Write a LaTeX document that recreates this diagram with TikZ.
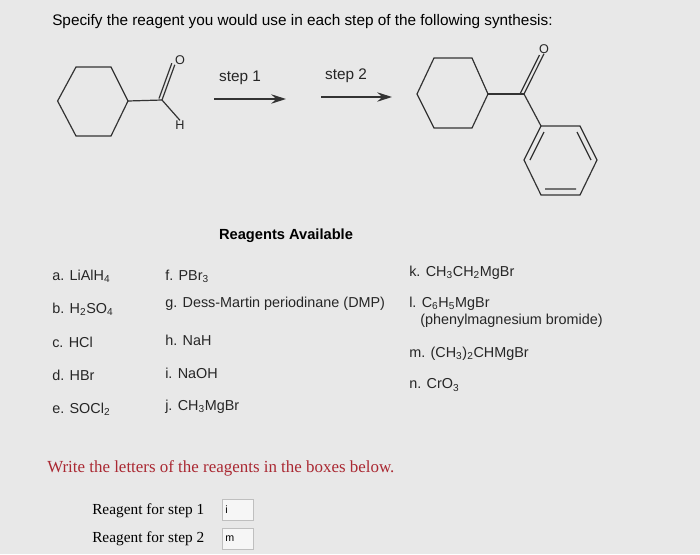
\documentclass[tikz,border=0pt]{standalone}
\usepackage{fontspec}
\usetikzlibrary{calc,arrows.meta}
\setmainfont{Liberation Sans}
\newfontfamily\serif{Liberation Serif}
\definecolor{bg}{RGB}{232,232,232}
\definecolor{redtxt}{RGB}{170,40,50}
\newcommand{\sbs}[1]{\textsubscript{#1}}
\begin{document}
\begin{tikzpicture}[x=0.75pt,y=-0.75pt,
 bond/.style={line width=0.9pt,black!80},
 lab/.style={inner sep=0pt,font=\fontsize{9.5}{11}\selectfont,text=black!85},
 reag/.style={inner sep=0pt,anchor=west,font=\fontsize{10.8}{12}\selectfont,text=black!85},
 ansbox/.style={draw=black!25,fill=white!60!bg,minimum width=23pt,minimum height=16pt,inner sep=0pt,font=\fontsize{8}{9}\selectfont}]
\fill[bg] (0,0) rectangle (700,554);
\useasboundingbox (0,0) rectangle (700,554);
\node[anchor=west,inner sep=0pt,font=\fontsize{11.5}{14}\selectfont] (title) at (52,22) {Specify the reagent you would use in each step of the following synthesis:};
% left molecule
\draw[bond] (57.6,101)--(76,67)--(111,67)--(128,101)--(111,136)--(76,136)--cycle;
\coordinate (c1) at (162,100);
\draw[bond] (128,101)--(c1);
\node[lab] (o1) at (180,60) {O};
\node[lab] (h1) at (180,125) {H};
\draw[bond] (c1)--(o1.south west);
\draw[bond] ($(c1)+(-3,-1.5)$)--($(o1.south west)+(-3,-1.5)$);
\draw[bond] (c1)--(h1.north);
% arrows
\node[lab,font=\fontsize{11.5}{13}\selectfont] (s1) at (240,78) {step 1};
\node[lab,font=\fontsize{11.5}{13}\selectfont] (s2) at (346,76) {step 2};
\coordinate (a1s) at (214,99); \coordinate (a1e) at (286,99);
\coordinate (a2s) at (321,97); \coordinate (a2e) at (392,97);
\draw[bond,line width=1.2pt,-{Stealth[length=11pt,width=7pt]}] (a1s)--(a1e);
\draw[bond,line width=1.2pt,-{Stealth[length=11pt,width=7pt]}] (a2s)--(a2e);
% product
\draw[bond] (417,94)--(434,58)--(472,58)--(488,94)--(472,128)--(434,128)--cycle;
\coordinate (c2) at (524,94);
\draw[bond] (488,94)--(c2);
\node[lab] (o2) at (544,49) {O};
\draw[bond] (c2)--(o2.south);
\draw[bond] (520.5,93)--(539.5,55);
\draw[bond] (c2)--(541,126);
\draw[bond] (541,126)--(580,126)--(597,160)--(580,195)--(541,195)--(524,160)--cycle;
\draw[bond] (544,132)--(530,160) (577,132)--(591,160) (545,189)--(576,189);
% reagents
\node[inner sep=0pt,font=\bfseries\fontsize{11}{12}\selectfont] (ra) at (286,236) {Reagents Available};
\node[reag] (a) at (52,276) {a. LiAlH\sbs{4}};
\node[reag] (b) at (52,309) {b. H\sbs{2}SO\sbs{4}};
\node[reag] (c) at (52,342) {c. HCl};
\node[reag] (d) at (52,375) {d. HBr};
\node[reag] (e) at (52,409) {e. SOCl\sbs{2}};
\node[reag] (f) at (165,276) {f. PBr\sbs{3}};
\node[reag] (g) at (165,304) {g. Dess-Martin periodinane (DMP)};
\node[reag] (h) at (165,340) {h. NaH};
\node[reag] (i) at (165,373) {i. NaOH};
\node[reag] (j) at (165,407) {j. CH\sbs{3}MgBr};
\node[reag] (k) at (409,273) {k. CH\sbs{3}CH\sbs{2}MgBr};
\node[reag] (l) at (409,304) {l. C\sbs{6}H\sbs{5}MgBr};
\node[reag] (l2) at (420,321) {(phenylmagnesium bromide)};
\node[reag] (m) at (409,354) {m. (CH\sbs{3})\sbs{2}CHMgBr};
\node[reag] (n) at (409,385) {n. CrO\sbs{3}};
% bottom
\node[anchor=west,inner sep=0pt,text=redtxt,font=\serif\fontsize{12.7}{14}\selectfont] (w) at (47,468) {Write the letters of the reagents in the boxes below.};
\node[anchor=west,inner sep=0pt,font=\serif\fontsize{11.5}{13}\selectfont] (r1) at (92,511) {Reagent for step 1};
\node[anchor=west,inner sep=0pt,font=\serif\fontsize{11.5}{13}\selectfont] (r2) at (92,539) {Reagent for step 2};
\node[ansbox,text width=19pt,align=left] (b1) at (238,510) {i};
\node[ansbox,text width=19pt,align=left] (b2) at (238,539) {m};
\end{tikzpicture}
\end{document}
